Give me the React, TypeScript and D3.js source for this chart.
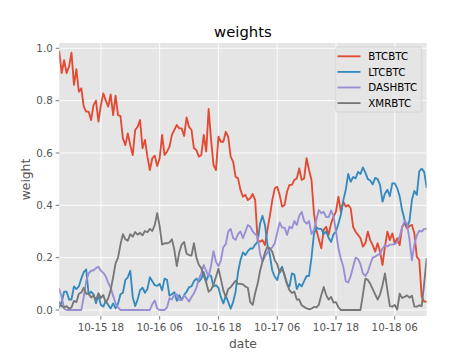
import React from 'react';
import * as d3 from 'd3';

// Half-hourly samples starting 2017-10-15 09:30 (UTC)
const START = Date.UTC(2017, 9, 15, 9, 30);
const STEP_MINUTES = 30;

const BTCBTC = [
  0.987,0.905,0.955,0.905,0.93,0.983,0.86,0.92,0.834,0.847,
  0.777,0.758,0.758,0.726,0.783,0.80,0.72,0.783,0.828,0.80,
  0.777,0.824,0.745,0.819,0.745,0.741,0.656,0.63,0.675,0.63,
  0.592,0.688,0.70,0.726,0.618,0.65,0.586,0.535,0.58,0.59,
  0.55,0.58,0.669,0.592,0.605,0.624,0.669,0.688,0.707,0.694,
  0.694,0.665,0.736,0.70,0.688,0.618,0.611,0.586,0.592,0.669,
  0.605,0.768,0.65,0.554,0.535,0.662,0.643,0.643,0.681,0.662,
  0.586,0.567,0.509,0.503,0.459,0.433,0.44,0.42,0.427,0.443,
  0.42,0.267,0.261,0.267,0.248,0.306,0.36,0.42,0.465,0.471,
  0.44,0.395,0.401,0.452,0.478,0.478,0.497,0.503,0.541,0.497,
  0.503,0.58,0.535,0.497,0.37,0.306,0.27,0.236,0.306,0.318,
  0.287,0.331,0.357,0.376,0.433,0.376,0.414,0.395,0.401,0.389,
  0.318,0.299,0.287,0.274,0.242,0.255,0.299,0.267,0.248,0.223,
  0.255,0.223,0.172,0.242,0.299,0.267,0.293,0.255,0.274,0.248,
  0.318,0.331,0.312,0.321,0.325,0.293,0.204,0.191,0.051,0.032,
  0.032,
];

const LTCBTC = [
  0.01,0.03,0.07,0.07,0.04,0.04,0.09,0.08,0.09,0.12,
  0.145,0.155,0.06,0.07,0.06,0.026,0.057,0.019,0.013,0.036,
  0.019,0.006,0.025,0.006,0.024,0.06,0.066,0.115,0.125,0.15,
  0.05,0.015,0.04,0.076,0.085,0.066,0.08,0.125,0.11,0.095,
  0.092,0.10,0.075,0.12,0.115,0.055,0.06,0.068,0.035,0.057,
  0.038,0.057,0.07,0.087,0.09,0.11,0.12,0.108,0.12,0.145,
  0.11,0.135,0.13,0.09,0.095,0.085,0.05,0.025,0.055,0.03,
  0.005,0.03,0.07,0.145,0.19,0.22,0.21,0.225,0.235,0.235,
  0.25,0.26,0.33,0.36,0.325,0.25,0.21,0.15,0.127,0.115,
  0.15,0.165,0.13,0.10,0.09,0.14,0.135,0.08,0.10,0.09,
  0.11,0.13,0.13,0.20,0.29,0.315,0.31,0.31,0.29,0.30,
  0.275,0.26,0.29,0.30,0.33,0.365,0.42,0.46,0.52,0.49,
  0.508,0.503,0.528,0.52,0.545,0.525,0.50,0.495,0.48,0.505,
  0.50,0.478,0.414,0.445,0.459,0.435,0.484,0.484,0.465,0.435,
  0.382,0.345,0.318,0.34,0.42,0.455,0.44,0.53,0.54,0.528,
  0.47,
];

const DASHBTC = [
  0.08,0.05,0.005,0,0,0,0,0,0,0,
  0.05,0.11,0.14,0.15,0.152,0.16,0.165,0.15,0.142,0.128,
  0.105,0.085,0.055,0.025,0.01,0,0,0,0,0,
  0,0,0,0,0,0,0,0,0.022,0.036,
  0.006,0,0,0,0.01,0.045,0.04,0.058,0.06,0.038,
  0.038,0.056,0.045,0.032,0.05,0.064,0.085,0.118,0.14,0.172,
  0.15,0.128,0.17,0.225,0.185,0.168,0.19,0.24,0.252,0.30,
  0.31,0.275,0.268,0.29,0.30,0.275,0.299,0.325,0.318,0.30,
  0.29,0.28,0.215,0.185,0.205,0.22,0.232,0.24,0.255,0.295,
  0.335,0.315,0.315,0.287,0.318,0.312,0.34,0.325,0.36,0.375,
  0.34,0.33,0.34,0.29,0.305,0.345,0.382,0.37,0.375,0.355,
  0.355,0.38,0.36,0.30,0.235,0.195,0.165,0.11,0.105,0.13,
  0.165,0.20,0.195,0.175,0.14,0.13,0.145,0.175,0.2,0.204,
  0.21,0.215,0.235,0.247,0.243,0.25,0.25,0.252,0.258,0.28,
  0.315,0.34,0.33,0.27,0.19,0.25,0.285,0.303,0.30,0.31,
  0.31,
];

const XMRBTC = [
  0.03,0.015,0.01,0.015,0.005,0.01,0.035,0.03,0.062,0.067,
  0.085,0.062,0.063,0.048,0.056,0.038,0.064,0.046,0.057,0.028,
  0.045,0.076,0.125,0.178,0.2,0.25,0.29,0.27,0.265,0.29,
  0.28,0.298,0.288,0.295,0.285,0.302,0.297,0.31,0.302,0.325,
  0.37,0.32,0.25,0.255,0.255,0.258,0.27,0.23,0.168,0.22,
  0.25,0.26,0.215,0.21,0.208,0.255,0.2,0.173,0.16,0.13,
  0.105,0.07,0.078,0.097,0.127,0.158,0.118,0.075,0.05,0.08,
  0.087,0.1,0.112,0.1,0.1,0.098,0.09,0.085,0.03,0.02,
  0.065,0.1,0.15,0.185,0.22,0.242,0.235,0.222,0.19,0.176,
  0.142,0.158,0.135,0.10,0.076,0.065,0.07,0.04,0.04,0.018,
  0.012,0.006,0.003,0.005,0.012,0.01,0.02,0.057,0.088,0.057,
  0.04,0.05,0.028,0.03,0.01,0,0,0,0,0,
  0,0,0,0,0.06,0.12,0.115,0.1,0.08,0.06,
  0.04,0.06,0.095,0.14,0.075,0.015,0.013,0.019,0.002,0.062,
  0.046,0.05,0.056,0.047,0.055,0.013,0.013,0.018,0.015,0.1,
  0.195,
];

const SERIES_NAMES = ['BTCBTC', 'LTCBTC', 'DASHBTC', 'XMRBTC'];
const SERIES_VALUES = [BTCBTC, LTCBTC, DASHBTC, XMRBTC];
const SERIES_COLORS = ['#E24A33', '#348ABD', '#988ED5', '#777777'];
const Y_TICKS = [0.0, 0.2, 0.4, 0.6, 0.8, 1.0];

const W = 474;
const H = 355;
const M = { left: 59.25, right: 426.6, top: 43, bottom: 316 };
const FONT = '"DejaVu Sans", sans-serif';

export default function App() {
  const n = BTCBTC.length;
  const times = d3.range(n).map((i) => new Date(START + i * STEP_MINUTES * 60000));
  const x = d3.scaleUtc().domain([times[0], times[n - 1]]).range([M.left, M.right]);
  const y = d3.scaleLinear().domain([-0.0229, 1.0203]).range([M.bottom, M.top]);
  const xTicks = x
    .ticks(d3.utcHour.every(6) as any)
    .filter((d) => d.getUTCHours() === 6 || d.getUTCHours() === 18);
  const fmt = d3.utcFormat('%m-%d %H');
  const line = d3
    .line<number>()
    .x((_, i) => x(times[i]))
    .y((d) => y(d));

  const legendX = 335.7;
  const legendY = 47;
  const legendW = 86;
  const legendH = 65;
  const rowH = 15.6;

  return (
    <svg
      width={W}
      height={H}
      style={{ position: 'absolute', left: 0, top: 0, background: '#fff' }}
      fontFamily={FONT}
    >
      <defs>
        <clipPath id="plotclip">
          <rect x={M.left} y={M.top} width={M.right - M.left} height={M.bottom - M.top} />
        </clipPath>
      </defs>
      <rect x={M.left} y={M.top} width={M.right - M.left} height={M.bottom - M.top} fill="#E5E5E5" />
      {Y_TICKS.map((t) => (
        <line key={'gy' + t} x1={M.left} x2={M.right} y1={y(t)} y2={y(t)} stroke="#fff" strokeWidth={0.9} />
      ))}
      {xTicks.map((t) => (
        <line key={'gx' + +t} x1={x(t)} x2={x(t)} y1={M.top} y2={M.bottom} stroke="#fff" strokeWidth={0.9} />
      ))}
      <g clipPath="url(#plotclip)">
        {SERIES_VALUES.map((vals, k) => (
          <path
            key={SERIES_NAMES[k]}
            d={line(vals) || ''}
            fill="none"
            stroke={SERIES_COLORS[k]}
            strokeWidth={1.85}
            strokeLinejoin="round"
            strokeLinecap="square"
          />
        ))}
      </g>
      {Y_TICKS.map((t) => (
        <g key={'ty' + t}>
          <line x1={M.left - 3.6} x2={M.left} y1={y(t)} y2={y(t)} stroke="#555" strokeWidth={0.8} />
          <text x={M.left - 6.5} y={y(t)} dy="0.36em" textAnchor="end" fontSize={10.3} fill="#555">
            {t.toFixed(1)}
          </text>
        </g>
      ))}
      {xTicks.map((t) => (
        <g key={'tx' + +t}>
          <line x1={x(t)} x2={x(t)} y1={M.bottom} y2={M.bottom + 3.6} stroke="#555" strokeWidth={0.8} />
          <text x={x(t)} y={M.bottom + 14.5} textAnchor="middle" fontSize={10.3} fill="#555">
            {fmt(t)}
          </text>
        </g>
      ))}
      <text x={(M.left + M.right) / 2} y={37} textAnchor="middle" fontSize={14.8} fill="#000">
        weights
      </text>
      <text x={(M.left + M.right) / 2} y={347.5} textAnchor="middle" fontSize={12.3} fill="#555">
        date
      </text>
      <text
        transform={`translate(29.5, ${(M.top + M.bottom) / 2}) rotate(-90)`}
        textAnchor="middle"
        fontSize={12.3}
        fill="#555"
      >
        weight
      </text>
      <rect
        x={legendX}
        y={legendY}
        width={legendW}
        height={legendH}
        rx={2}
        fill="#E5E5E5"
        fillOpacity={0.8}
        stroke="#CCCCCC"
        strokeOpacity={0.8}
        strokeWidth={0.8}
      />
      {SERIES_NAMES.map((name, k) => {
        const cy = legendY + 9.3 + k * rowH;
        return (
          <g key={'lg' + name}>
            <line x1={legendX + 1.8} x2={legendX + 24.8} y1={cy} y2={cy} stroke={SERIES_COLORS[k]} strokeWidth={1.85} />
            <text x={legendX + 32.5} y={cy} dy="0.36em" fontSize={10.3} fill="#000">
              {name}
            </text>
          </g>
        );
      })}
    </svg>
  );
}
